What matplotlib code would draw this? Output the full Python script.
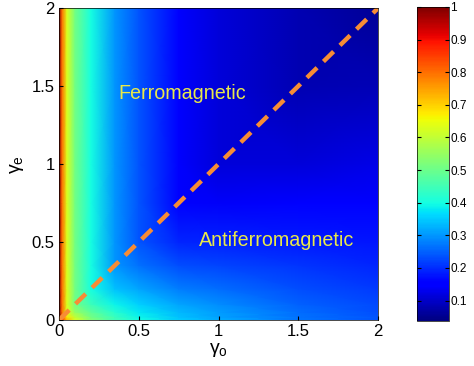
import numpy as np
import matplotlib
matplotlib.use("Agg")
import matplotlib.pyplot as plt

plt.rcParams["font.family"] = ["Liberation Sans", "DejaVu Sans"]
plt.rcParams["mathtext.fontset"] = "custom"
plt.rcParams["mathtext.rm"] = "Liberation Sans"

# grid nodes (gamma_o along x, gamma_e along y)
gamma_o = [0, 0.02, 0.05, 0.1, 0.2, 0.35, 0.5, 0.75, 1.0, 1.5, 2.0]
gamma_e = [0, 0.02, 0.05, 0.1, 0.2, 0.35, 0.5, 0.75, 1.0, 1.5, 2.0]

# values, one row per gamma_e node
values = [
    [1.00, 0.86, 0.73, 0.63, 0.53, 0.45, 0.40, 0.35, 0.32, 0.27, 0.24],
    [1.00, 0.80, 0.68, 0.60, 0.51, 0.44, 0.39, 0.34, 0.31, 0.266, 0.237],
    [1.00, 0.80, 0.63, 0.55, 0.485, 0.42, 0.377, 0.331, 0.305, 0.261, 0.233],
    [1.00, 0.80, 0.63, 0.51, 0.446, 0.39, 0.355, 0.312, 0.29, 0.251, 0.227],
    [1.00, 0.80, 0.63, 0.51, 0.40, 0.342, 0.314, 0.277, 0.262, 0.233, 0.214],
    [1.00, 0.80, 0.63, 0.51, 0.40, 0.30, 0.266, 0.231, 0.222, 0.207, 0.195],
    [1.00, 0.80, 0.63, 0.51, 0.40, 0.30, 0.24, 0.192, 0.188, 0.183, 0.177],
    [1.00, 0.80, 0.63, 0.51, 0.40, 0.30, 0.24, 0.155, 0.141, 0.147, 0.149],
    [1.00, 0.80, 0.63, 0.51, 0.40, 0.30, 0.24, 0.155, 0.115, 0.116, 0.124],
    [1.00, 0.80, 0.63, 0.51, 0.40, 0.30, 0.24, 0.155, 0.115, 0.08, 0.083],
    [1.00, 0.80, 0.63, 0.51, 0.40, 0.30, 0.24, 0.155, 0.115, 0.08, 0.06],
]

boundary = [0, 2]
cbar_ticks = [0.1, 0.2, 0.3, 0.4, 0.5, 0.6, 0.7, 0.8, 0.9, 1]
cmin, cmax = 0.0375, 1.0

fig = plt.figure(figsize=(4.74, 3.66), dpi=100)
ax = fig.add_axes([0.1245, 0.1257, 0.673, 0.852])
cax = fig.add_axes([0.880, 0.123, 0.0675, 0.858])

X, Y = np.meshgrid(gamma_o, gamma_e)
mesh = ax.pcolormesh(X, Y, np.array(values), shading="gouraud",
                     cmap="jet", vmin=cmin, vmax=cmax, rasterized=True)

ax.plot(boundary, boundary, color="#f78c35", lw=3.2, dashes=(3.2, 2.0))

ax.text(0.37, 1.45, "Ferromagnetic", color="#e8e84a", fontsize=14.2, va="center")
ax.text(0.88, 0.51, "Antiferromagnetic", color="#e8e84a", fontsize=14.2, va="center")

ax.set_xlim(0, 2)
ax.set_ylim(0, 2)
ax.set_xticks([0, 0.5, 1, 1.5, 2])
ax.set_xticklabels(["0", "0.5", "1", "1.5", "2"])
ax.set_yticks([0, 0.5, 1, 1.5, 2])
ax.set_yticklabels(["0", "0.5", "1", "1.5", "2"])
ax.tick_params(direction="in", length=3, labelsize=12, pad=3)
ax.set_xlabel(r"$\mathrm{\gamma}_{\mathrm{o}}$", fontsize=14, labelpad=1)
ax.set_ylabel(r"$\mathrm{\gamma}_{\mathrm{e}}$", fontsize=14, labelpad=4)
for s in ax.spines.values():
    s.set_linewidth(0.5)

cb = fig.colorbar(mesh, cax=cax, ticks=cbar_ticks)
cb.ax.set_yticklabels(["0.1", "0.2", "0.3", "0.4", "0.5", "0.6", "0.7", "0.8", "0.9", "1"])
cb.ax.tick_params(direction="in", length=3, labelsize=8.5, pad=1, left=True, right=True)
cb.outline.set_linewidth(0.5)

fig.savefig("out.png", dpi=100)
